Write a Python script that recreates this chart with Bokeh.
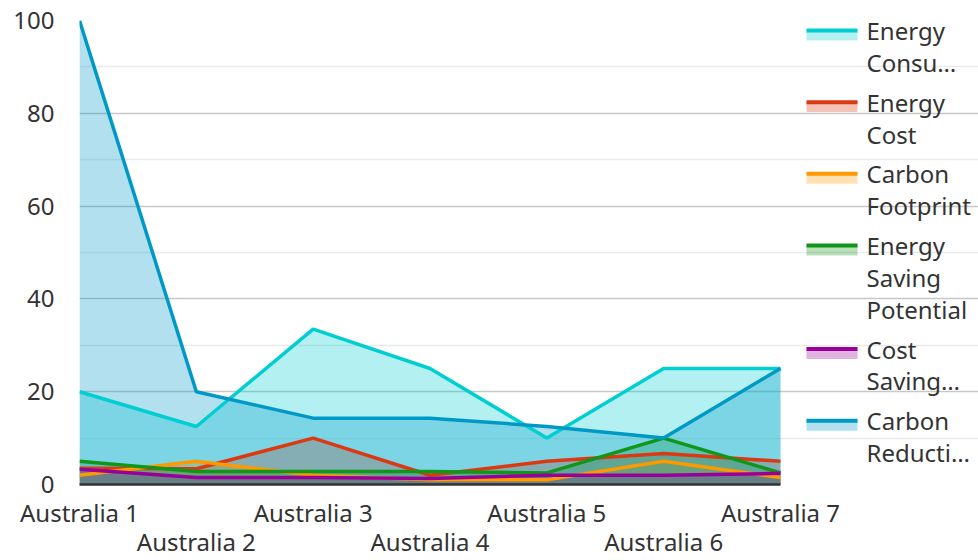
from bokeh.plotting import figure
from bokeh.models import LinearAxis, FixedTicker, Range1d, Grid
from bokeh.core.properties import value
from bokeh.embed import file_html
from bokeh.resources import INLINE

categories = ["Australia 1", "Australia 2", "Australia 3", "Australia 4",
              "Australia 5", "Australia 6", "Australia 7"]
energy_consumption = [20, 12.5, 33.5, 25, 10, 25, 25]
energy_cost = [3.5, 3.4, 10, 2, 5, 6.7, 5]
carbon_footprint = [2, 5, 2, 1, 1, 5, 1.5]
energy_saving_potential = [5, 2.8, 2.8, 2.8, 2.5, 10, 2.5]
cost_savings = [3.3, 1.5, 1.5, 1.3, 2, 2, 2.4]
carbon_reduction = [100, 20, 14.3, 14.3, 12.5, 10, 25]

series_names = ["Energy Consumption", "Energy Cost", "Carbon Footprint",
                "Energy Saving Potential", "Cost Savings", "Carbon Reduction"]
legend_lines = [["Energy", "Consu\u2026"], ["Energy", "Cost"], ["Carbon", "Footprint"],
                ["Energy", "Saving", "Potential"], ["Cost", "Saving\u2026"],
                ["Carbon", "Reducti\u2026"]]
y_ticks = [0, 20, 40, 60, 80, 100]

series = [energy_consumption, energy_cost, carbon_footprint,
          energy_saving_potential, cost_savings, carbon_reduction]
colors = ["#00CED1", "#DC3912", "#FF9900", "#109618", "#990099", "#0099C6"]

FONT = "Noto Sans"
FS = "24px"
TXT = "#333333"

W, H = 978, 560
LEFT, TOP = 79, 20
PLOT_RIGHT = 780          # right end of the data area (page px)
PLOT_BOTTOM = 486

xs = list(range(len(categories)))
n = len(categories) - 1
frame_w = W - LEFT
x_end = n * frame_w / (PLOT_RIGHT - LEFT)

p = figure(width=W, height=H, output_backend="svg", toolbar_location=None,
           x_range=Range1d(0, x_end), y_range=Range1d(0, 100),
           min_border_left=LEFT, min_border_right=0, min_border_top=TOP,
           min_border_bottom=0, x_axis_location=None, y_axis_location=None)
p.outline_line_color = None
p.background_fill_color = "white"
p.xgrid.visible = False
p.ygrid.visible = False
p.extra_x_ranges = {"px": Range1d(LEFT, W)}
p.extra_y_ranges = {"py": Range1d(PLOT_BOTTOM, TOP)}


def style_axis(ax, standoff):
    ax.major_tick_line_color = None
    ax.minor_tick_line_color = None
    ax.major_tick_out = 0
    ax.major_tick_in = 0
    ax.minor_tick_out = 0
    ax.minor_tick_in = 0
    ax.major_label_standoff = standoff
    ax.major_label_text_font = FONT
    ax.major_label_text_font_size = FS
    ax.major_label_text_color = TXT


yaxis = LinearAxis(ticker=FixedTicker(ticks=y_ticks))
style_axis(yaxis, 25)
yaxis.axis_line_color = None
p.add_layout(yaxis, "left")

p.add_layout(Grid(dimension=1, ticker=FixedTicker(ticks=y_ticks), bounds=(0, n),
                  grid_line_color="#c8c8c8", grid_line_width=1.5))
p.add_layout(Grid(dimension=1, ticker=FixedTicker(ticks=[10, 30, 50, 70, 90]),
                  bounds=(0, n), grid_line_color="#ebebeb", grid_line_width=1.5))

odd = [i for i in xs if i % 2 == 0]
even = [i for i in xs if i % 2 == 1]
xaxis1 = LinearAxis(ticker=FixedTicker(ticks=odd), bounds=(0, n),
                    major_label_overrides={i: categories[i] for i in odd})
style_axis(xaxis1, 11)
xaxis1.axis_line_color = "#333333"
xaxis1.axis_line_width = 2.5
p.add_layout(xaxis1, "below")

xaxis2 = LinearAxis(ticker=FixedTicker(ticks=even), bounds=(0, n),
                    major_label_overrides={i: categories[i] for i in even})
style_axis(xaxis2, -7)
xaxis2.axis_line_color = None
p.add_layout(xaxis2, "below")

for vals, c in zip(series, colors):
    p.varea(x=xs, y1=[0] * len(xs), y2=vals, fill_color=c, fill_alpha=0.3)
for vals, c in zip(series, colors):
    p.line(x=xs, y=vals, line_color=c, line_width=3.5)

# legend (page-pixel coordinates through the extra ranges)
line_h = 32
y0 = 30
tx, ty, tt = [], [], []
for name, lines, c in zip(series_names, legend_lines, colors):
    p.quad(left=806, right=857, top=y0 - 1, bottom=y0 + 10, fill_color=c,
           fill_alpha=0.3, line_color=None, x_range_name="px", y_range_name="py")
    p.segment(x0=806, y0=y0, x1=857, y1=y0, line_color=c, line_width=4,
              x_range_name="px", y_range_name="py")
    for k, t in enumerate(lines):
        tx.append(866)
        ty.append(y0 + k * line_h)
        tt.append(t)
    y0 += len(lines) * line_h + 8
p.text(x=tx, y=ty, text=tt, text_baseline="middle", text_align="left",
       text_font=value(FONT), text_font_size=FS, text_color=TXT,
       x_range_name="px", y_range_name="py")

open("out.html", "w").write(file_html(p, INLINE))
